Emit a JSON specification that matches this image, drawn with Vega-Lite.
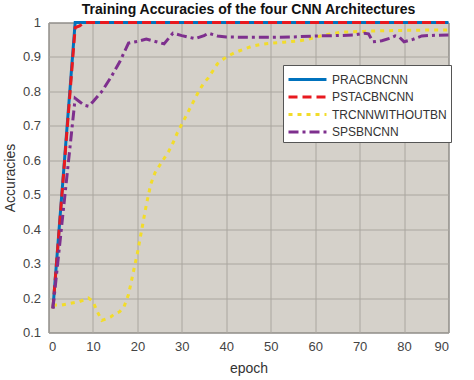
{
  "$schema": "https://vega.github.io/schema/vega-lite/v6.json",
  "width": 400,
  "height": 310,
  "autosize": {"type": "none"},
  "padding": {"left": 48.5, "top": 22.5, "right": 25.5, "bottom": 47.5},
  "background": "white",
  "title": {"text": "Training Accuracies of the four CNN Architectures", "font": "Liberation Sans", "fontSize": 14, "fontWeight": "bold", "color": "#111111", "anchor": "middle", "offset": 0},
  "config": {
    "view": {"fill": "#d5d1ca", "stroke": "#5a5a5a", "strokeWidth": 1},
    "axis": {"labelFont": "Liberation Sans", "labelFontSize": 13, "labelColor": "#444444", "titleFont": "Liberation Sans", "titleFontSize": 14, "titleFontWeight": "normal", "titleColor": "#333333", "domain": false, "ticks": false, "gridColor": "#aaa69f", "gridWidth": 1, "gridOpacity": 1}
  },
  "data": {"values": [
    {"m": "PRACBNCNN", "e": 1, "a": 0.17},
    {"m": "PRACBNCNN", "e": 6, "a": 1.0},
    {"m": "PRACBNCNN", "e": 20, "a": 1.0},
    {"m": "PRACBNCNN", "e": 40, "a": 1.0},
    {"m": "PRACBNCNN", "e": 60, "a": 1.0},
    {"m": "PRACBNCNN", "e": 80, "a": 1.0},
    {"m": "PRACBNCNN", "e": 90, "a": 1.0},
    {"m": "PSTACBNCNN", "e": 1, "a": 0.17},
    {"m": "PSTACBNCNN", "e": 6, "a": 0.985},
    {"m": "PSTACBNCNN", "e": 7, "a": 0.99},
    {"m": "PSTACBNCNN", "e": 8, "a": 1.0},
    {"m": "PSTACBNCNN", "e": 30, "a": 1.0},
    {"m": "PSTACBNCNN", "e": 60, "a": 1.0},
    {"m": "PSTACBNCNN", "e": 90, "a": 1.0},
    {"m": "TRCNNWITHOUTBN", "e": 1, "a": 0.18},
    {"m": "TRCNNWITHOUTBN", "e": 3, "a": 0.18},
    {"m": "TRCNNWITHOUTBN", "e": 5, "a": 0.185},
    {"m": "TRCNNWITHOUTBN", "e": 7, "a": 0.19},
    {"m": "TRCNNWITHOUTBN", "e": 9, "a": 0.2},
    {"m": "TRCNNWITHOUTBN", "e": 10, "a": 0.19},
    {"m": "TRCNNWITHOUTBN", "e": 11, "a": 0.16},
    {"m": "TRCNNWITHOUTBN", "e": 12, "a": 0.135},
    {"m": "TRCNNWITHOUTBN", "e": 13, "a": 0.14},
    {"m": "TRCNNWITHOUTBN", "e": 14, "a": 0.145},
    {"m": "TRCNNWITHOUTBN", "e": 15, "a": 0.155},
    {"m": "TRCNNWITHOUTBN", "e": 16, "a": 0.16},
    {"m": "TRCNNWITHOUTBN", "e": 17, "a": 0.175},
    {"m": "TRCNNWITHOUTBN", "e": 18, "a": 0.21},
    {"m": "TRCNNWITHOUTBN", "e": 19, "a": 0.27},
    {"m": "TRCNNWITHOUTBN", "e": 20, "a": 0.33},
    {"m": "TRCNNWITHOUTBN", "e": 21, "a": 0.4},
    {"m": "TRCNNWITHOUTBN", "e": 22, "a": 0.47},
    {"m": "TRCNNWITHOUTBN", "e": 23, "a": 0.53},
    {"m": "TRCNNWITHOUTBN", "e": 24, "a": 0.565},
    {"m": "TRCNNWITHOUTBN", "e": 25, "a": 0.585},
    {"m": "TRCNNWITHOUTBN", "e": 26, "a": 0.605},
    {"m": "TRCNNWITHOUTBN", "e": 27, "a": 0.625},
    {"m": "TRCNNWITHOUTBN", "e": 28, "a": 0.65},
    {"m": "TRCNNWITHOUTBN", "e": 29, "a": 0.68},
    {"m": "TRCNNWITHOUTBN", "e": 30, "a": 0.705},
    {"m": "TRCNNWITHOUTBN", "e": 31, "a": 0.73},
    {"m": "TRCNNWITHOUTBN", "e": 32, "a": 0.755},
    {"m": "TRCNNWITHOUTBN", "e": 33, "a": 0.78},
    {"m": "TRCNNWITHOUTBN", "e": 34, "a": 0.805},
    {"m": "TRCNNWITHOUTBN", "e": 35, "a": 0.825},
    {"m": "TRCNNWITHOUTBN", "e": 36, "a": 0.84},
    {"m": "TRCNNWITHOUTBN", "e": 37, "a": 0.86},
    {"m": "TRCNNWITHOUTBN", "e": 38, "a": 0.88},
    {"m": "TRCNNWITHOUTBN", "e": 39, "a": 0.89},
    {"m": "TRCNNWITHOUTBN", "e": 40, "a": 0.9},
    {"m": "TRCNNWITHOUTBN", "e": 42, "a": 0.913},
    {"m": "TRCNNWITHOUTBN", "e": 44, "a": 0.923},
    {"m": "TRCNNWITHOUTBN", "e": 46, "a": 0.932},
    {"m": "TRCNNWITHOUTBN", "e": 48, "a": 0.937},
    {"m": "TRCNNWITHOUTBN", "e": 50, "a": 0.94},
    {"m": "TRCNNWITHOUTBN", "e": 53, "a": 0.943},
    {"m": "TRCNNWITHOUTBN", "e": 56, "a": 0.946},
    {"m": "TRCNNWITHOUTBN", "e": 58, "a": 0.95},
    {"m": "TRCNNWITHOUTBN", "e": 60, "a": 0.957},
    {"m": "TRCNNWITHOUTBN", "e": 62, "a": 0.963},
    {"m": "TRCNNWITHOUTBN", "e": 64, "a": 0.968},
    {"m": "TRCNNWITHOUTBN", "e": 66, "a": 0.972},
    {"m": "TRCNNWITHOUTBN", "e": 70, "a": 0.974},
    {"m": "TRCNNWITHOUTBN", "e": 75, "a": 0.976},
    {"m": "TRCNNWITHOUTBN", "e": 80, "a": 0.977},
    {"m": "TRCNNWITHOUTBN", "e": 85, "a": 0.978},
    {"m": "TRCNNWITHOUTBN", "e": 90, "a": 0.978},
    {"m": "SPSBNCNN", "e": 1, "a": 0.17},
    {"m": "SPSBNCNN", "e": 6, "a": 0.78},
    {"m": "SPSBNCNN", "e": 7, "a": 0.77},
    {"m": "SPSBNCNN", "e": 8, "a": 0.76},
    {"m": "SPSBNCNN", "e": 9, "a": 0.757},
    {"m": "SPSBNCNN", "e": 10, "a": 0.77},
    {"m": "SPSBNCNN", "e": 12, "a": 0.8},
    {"m": "SPSBNCNN", "e": 14, "a": 0.84},
    {"m": "SPSBNCNN", "e": 16, "a": 0.885},
    {"m": "SPSBNCNN", "e": 18, "a": 0.94},
    {"m": "SPSBNCNN", "e": 20, "a": 0.945},
    {"m": "SPSBNCNN", "e": 22, "a": 0.952},
    {"m": "SPSBNCNN", "e": 24, "a": 0.945},
    {"m": "SPSBNCNN", "e": 26, "a": 0.938},
    {"m": "SPSBNCNN", "e": 28, "a": 0.969},
    {"m": "SPSBNCNN", "e": 30, "a": 0.962},
    {"m": "SPSBNCNN", "e": 33, "a": 0.953},
    {"m": "SPSBNCNN", "e": 35, "a": 0.962},
    {"m": "SPSBNCNN", "e": 36, "a": 0.969},
    {"m": "SPSBNCNN", "e": 38, "a": 0.961},
    {"m": "SPSBNCNN", "e": 40, "a": 0.958},
    {"m": "SPSBNCNN", "e": 45, "a": 0.957},
    {"m": "SPSBNCNN", "e": 50, "a": 0.957},
    {"m": "SPSBNCNN", "e": 55, "a": 0.958},
    {"m": "SPSBNCNN", "e": 60, "a": 0.961},
    {"m": "SPSBNCNN", "e": 65, "a": 0.962},
    {"m": "SPSBNCNN", "e": 69, "a": 0.964},
    {"m": "SPSBNCNN", "e": 71, "a": 0.969},
    {"m": "SPSBNCNN", "e": 72, "a": 0.967},
    {"m": "SPSBNCNN", "e": 73, "a": 0.944},
    {"m": "SPSBNCNN", "e": 75, "a": 0.947},
    {"m": "SPSBNCNN", "e": 77, "a": 0.955},
    {"m": "SPSBNCNN", "e": 78, "a": 0.961},
    {"m": "SPSBNCNN", "e": 79, "a": 0.957},
    {"m": "SPSBNCNN", "e": 80, "a": 0.944},
    {"m": "SPSBNCNN", "e": 82, "a": 0.951},
    {"m": "SPSBNCNN", "e": 84, "a": 0.961},
    {"m": "SPSBNCNN", "e": 87, "a": 0.963},
    {"m": "SPSBNCNN", "e": 90, "a": 0.964}
  ]},
  "mark": {"type": "line"},
  "encoding": {
    "x": {"field": "e", "type": "quantitative", "scale": {"domain": [0, 90], "nice": false},
      "axis": {"title": "epoch", "values": [0, 10, 20, 30, 40, 50, 60, 70, 80, 90], "labelPadding": 8, "titlePadding": 8}},
    "y": {"field": "a", "type": "quantitative", "scale": {"domain": [0.1, 1], "nice": false, "zero": false},
      "axis": {"title": "Accuracies", "values": [0.1, 0.2, 0.3, 0.4, 0.5, 0.6, 0.7, 0.8, 0.9, 1], "format": "~g", "labelPadding": 8, "titlePadding": 5}},
    "strokeWidth": {"field": "m", "type": "nominal", "legend": null,
      "scale": {"domain": ["PRACBNCNN", "PSTACBNCNN", "TRCNNWITHOUTBN", "SPSBNCNN"], "range": [3, 3, 4, 3]}},
    "color": {"field": "m", "type": "nominal",
      "scale": {"domain": ["PRACBNCNN", "PSTACBNCNN", "TRCNNWITHOUTBN", "SPSBNCNN"], "range": ["#0072bd", "#e8191f", "#f2dc2a", "#7e2f8e"]},
      "legend": {"title": null, "orient": "none", "legendX": 234.5, "legendY": 42.5, "fillColor": "white", "strokeColor": "#555555", "padding": 4, "symbolType": "M-1,0H3.22", "symbolSize": 324, "symbolStrokeWidth": 3, "labelFont": "Liberation Sans", "labelFontSize": 12, "labelColor": "#333333", "labelOffset": 24, "rowPadding": 0.5}},
    "strokeDash": {"field": "m", "type": "nominal",
      "scale": {"domain": ["PRACBNCNN", "PSTACBNCNN", "TRCNNWITHOUTBN", "SPSBNCNN"], "range": [[1, 0], [9, 5], [4, 5], [10, 4, 3, 4]]},
      "legend": {"title": null, "orient": "none", "legendX": 234.5, "legendY": 42.5, "fillColor": "white", "strokeColor": "#555555", "padding": 4, "symbolType": "M-1,0H3.22", "symbolSize": 324, "symbolStrokeWidth": 3, "labelFont": "Liberation Sans", "labelFontSize": 12, "labelColor": "#333333", "labelOffset": 24, "rowPadding": 0.5}}
  }
}
